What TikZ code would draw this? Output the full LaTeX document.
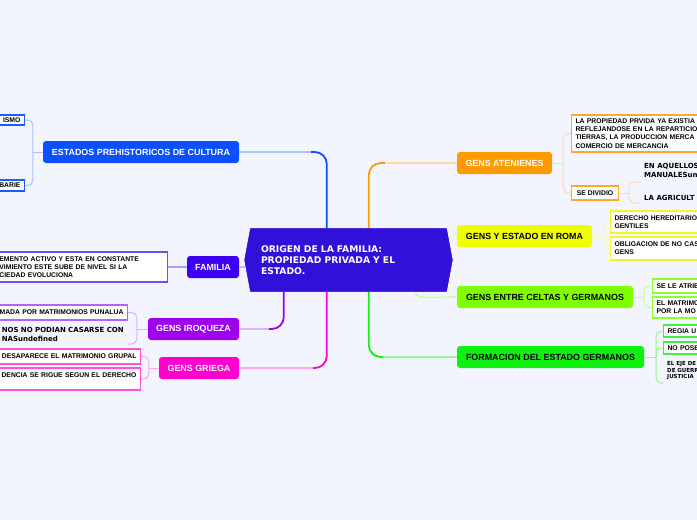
\documentclass[tikz,border=0pt]{standalone}
\usepackage{fontspec}
\setmainfont{Liberation Sans}
\newfontfamily\dejavu{DejaVu Sans}
\usetikzlibrary{calc,backgrounds}
\definecolor{bg}{HTML}{F2F5FD}
\definecolor{croot}{HTML}{3210DA}
\definecolor{cblue}{HTML}{0A50FF}
\definecolor{cblueL}{HTML}{A9C2FF}
\definecolor{cblueB}{HTML}{1A5CFF}
\definecolor{cfam}{HTML}{3D00F5}
\definecolor{cfamL}{HTML}{A99DFF}
\definecolor{cfamB}{HTML}{6A50F5}
\definecolor{cviol}{HTML}{9E00EE}
\definecolor{cviolL}{HTML}{DDB0FF}
\definecolor{cviolB}{HTML}{B860FF}
\definecolor{cmag}{HTML}{FF00CF}
\definecolor{cmagL}{HTML}{FFA8EE}
\definecolor{cmagB}{HTML}{FF50E0}
\definecolor{corange}{HTML}{FF9A00}
\definecolor{corangeL}{HTML}{FFD9A6}
\definecolor{corangeB}{HTML}{FFA830}
\definecolor{cyel}{HTML}{F0FF00}
\definecolor{cyelL}{HTML}{F4FFA0}
\definecolor{cyelB}{HTML}{F0F530}
\definecolor{clime}{HTML}{80FF00}
\definecolor{climeL}{HTML}{C2FF8C}
\definecolor{climeB}{HTML}{8CFF30}
\definecolor{cgreen}{HTML}{10F010}
\definecolor{cgreenL}{HTML}{98F598}
\definecolor{cgreenB}{HTML}{40EE40}
\begin{document}
\begin{tikzpicture}[x=1pt,y=-1pt,
 mainbox/.style={rounded corners=3pt, minimum height=22pt, inner sep=0pt, font=\fontsize{8.9}{10}\selectfont\bfseries},
 childbox/.style={draw, fill=white, line width=1.1pt, font=\fontsize{6.8}{8.3}\selectfont\bfseries, inner xsep=4pt, inner ysep=2pt, text=black},
 plainbox/.style={font=\dejavu\fontsize{7}{8.3}\selectfont\bfseries, inner xsep=4pt, text=black, align=left},
 trunk/.style={line width=1.8pt, rounded corners=12pt},
 twig/.style={line width=1.2pt},
 brk/.style={line width=1pt, rounded corners=5pt}]
\begin{scope}[on background layer]
\fill[bg] (0,0) rectangle (697,520);
\end{scope}
\useasboundingbox (0,0) rectangle (697,520);

% root
\node[text=white, font=\dejavu\bfseries\fontsize{9.2}{11}\selectfont, minimum width=197pt, minimum height=64pt, text width=175pt, align=left, inner sep=0pt] (root) at (348.5,260) {ORIGEN DE LA FAMILIA:\\PROPIEDAD PRIVADA Y EL\\ESTADO.};
\begin{scope}[on background layer]
\filldraw[fill=croot, draw=white, line width=0.8pt] ($(root.west)+(-6,0)$) -- (root.north west) -- (root.north east) -- ($(root.east)+(6,0)$) -- (root.south east) -- (root.south west) -- cycle;
\end{scope}

% main branches
\node[mainbox, fill=cblue, text=white, minimum width=196pt] (estados) at (141,152) {ESTADOS PREHISTORICOS DE CULTURA};
\node[mainbox, fill=cfam, text=white, minimum width=52pt] (familia) at (213,267) {FAMILIA};
\node[mainbox, fill=cviol, text=white, minimum width=91pt] (iroq) at (193.5,329) {GENS IROQUEZA};
\node[mainbox, fill=cmag, text=white, minimum width=80pt] (griega) at (199,368) {GENS GRIEGA};
\node[mainbox, fill=corange, text=white, minimum width=95pt] (aten) at (504.5,163) {GENS ATENIENES};
\node[mainbox, fill=cyel, text=black, minimum width=135pt] (roma) at (524.5,236) {GENS Y ESTADO EN ROMA};
\node[mainbox, fill=clime, text=black, minimum width=176pt] (celtas) at (545,297) {GENS ENTRE CELTAS Y GERMANOS};
\node[mainbox, fill=cgreen, text=black, minimum width=187pt] (form) at (550.5,357) {FORMACION DEL ESTADO GERMANOS};

% root anchors for connectors
\coordinate (rA) at ($(root.north west)+(77,0)$);
\coordinate (rB) at ($(root.north west)+(119,0)$);
\coordinate (rC) at ($(root.south west)+(34,0)$);
\coordinate (rD) at ($(root.south west)+(77,0)$);
\coordinate (rE) at ($(root.south west)+(119,0)$);
\coordinate (rF) at ($(root.south west)+(165,0)$);
\coordinate (rG) at ($(root.north east)+(1.5,8)$);
\coordinate (rH) at ($(root.south west)+(-4.7,-25)$);

\draw[trunk, cblue] (rA) |- ($(estados.east)+(72,0)$);
\draw[twig, cblueL] ($(estados.east)+(72,0)$) -- (estados.east);
\draw[trunk, corange] (rB) |- ($(aten.west)+(-72,0)$);
\draw[twig, corangeL] ($(aten.west)+(-72,0)$) -- (aten.west);
\draw[trunk, cviol] (rC) |- ($(iroq.east)+(30,0)$);
\draw[twig, cviolL] ($(iroq.east)+(30,0)$) -- (iroq.east);
\draw[trunk, cmag] (rD) |- ($(griega.east)+(74,0)$);
\draw[twig, cmagL] ($(griega.east)+(74,0)$) -- (griega.east);
\draw[trunk, cgreen] (rE) |- ($(form.west)+(-74,0)$);
\draw[twig, cgreenL] ($(form.west)+(-74,0)$) -- (form.west);
\draw[twig, climeL] (rF) .. controls ($(rF)+(2,5)$) and ($(rF)+(5,5)$) .. ($(rF)+(17,5)$) -- (celtas.west);
\draw[twig, cyelL] (rG) -- (roma.west);
\draw[twig, cfamL] (familia.east) -- (rH);

% ESTADOS children
\node[childbox, draw=cblueB, anchor=east, text width=50pt, align=right, minimum height=10pt] (salv) at (25,120) {ISMO};
\node[childbox, draw=cblueB, anchor=east, text width=50pt, align=right, minimum height=11pt] (barb) at (25,185.5) {BARIE};
\coordinate (bE) at ($(estados.west)+(-10,0)$);
\draw[brk, cblueL] (estados.west) -- (bE);
\draw[brk, cblueL] (bE) |- (salv.east);
\draw[brk, cblueL] (bE) |- (barb.east);

% FAMILIA child
\node[childbox, draw=cfamB, anchor=east, text width=164pt, align=left, minimum height=30pt] (famc) at (168,267) {EMENTO ACTIVO Y ESTA EN CONSTANTE\\VIMIENTO ESTE SUBE DE NIVEL SI LA\\CIEDAD EVOLUCIONA};
\draw[twig, cfamL] (familia.west) -- (famc.east);

% IROQUEZA children
\node[childbox, draw=cviolB, anchor=east, text width=140pt, align=right, minimum height=15pt] (iro1) at (128,312.5) {MADA POR MATRIMONIOS PUNALUA};
\node[plainbox, anchor=south east, text width=124pt, inner xsep=2pt, inner ysep=2.5pt] (iro2) at (128,344) {NOS NO PODIAN CASARSE CON\\NASundefined};
\coordinate (bI) at ($(iroq.west)+(-11,0)$);
\draw[brk, cviolL] (iroq.west) -- (bI);
\draw[brk, cviolL] (bI) |- (iro1.east);
\draw[brk, cviolL] (bI) |- (iro2.south east);

% GRIEGA children
\node[childbox, draw=cmagB, anchor=east, text width=150pt, align=right, minimum height=15pt] (gr1) at (141,356.5) {DESAPARECE EL MATRIMONIO GRUPAL};
\node[childbox, draw=cmagB, anchor=east, text width=150pt, align=right, minimum height=22pt] (gr2) at (141,379) {DENCIA SE RIGUE SEGUN EL DERECHO\\~};
\coordinate (bG) at ($(griega.west)+(-10,0)$);
\draw[brk, cmagL] (griega.west) -- (bG);
\draw[brk, cmagL] (bG) |- (gr1.east);
\draw[brk, cmagL] (bG) |- (gr2.east);

% ATENIENES children
\node[childbox, draw=corangeB, anchor=west, text width=150pt, align=left, minimum height=37pt] (at1) at (571,133.5) {LA PROPIEDAD PRVIDA YA EXISTIA\\REFLEJANDOSE EN LA REPARTICIO\\TIERRAS, LA PRODUCCION MERCA\\COMERCIO DE MERCANCIA};
\node[childbox, draw=corangeB, anchor=west, minimum width=47pt, minimum height=14pt] (sediv) at (571,193) {SE DIVIDIO};
\coordinate (bA) at ($(aten.east)+(11,0)$);
\draw[brk, corangeL] (aten.east) -- (bA);
\draw[brk, corangeL] (bA) |- (at1.west);
\draw[brk, corangeL] (bA) |- (sediv.west);

\node[plainbox, anchor=south west, inner ysep=4.5pt] (en) at (640,182) {EN AQUELLOS\\MANUALESun};
\node[plainbox, anchor=south west, inner ysep=2.5pt] (agr) at (640,203) {LA AGRICULT};
\coordinate (bS) at ($(sediv.east)+(10,0)$);
\draw[brk, corangeL] (sediv.east) -- (bS);
\draw[brk, corangeL] (bS) |- (en.south west);
\draw[brk, corangeL] (bS) |- (agr.south west);

% ROMA children
\node[childbox, draw=cyelB, anchor=west, text width=150pt, align=left, minimum height=22pt] (ro1) at (610,222) {DERECHO HEREDITARIO\\GENTILES};
\node[childbox, draw=cyelB, anchor=west, text width=150pt, align=left, minimum height=23pt] (ro2) at (610,248.5) {OBLIGACION DE NO CAS\\GENS};
\coordinate (bR) at ($(roma.east)+(12,0)$);
\draw[brk, cyelL] (roma.east) -- (bR);
\draw[brk, cyelL] (bR) |- (ro1.west);
\draw[brk, cyelL] (bR) |- (ro2.west);

% CELTAS children
\node[childbox, draw=climeB, anchor=west, text width=150pt, align=left, minimum height=14pt] (ce1) at (652,286) {SE LE ATRIB};
\node[childbox, draw=climeB, anchor=west, text width=150pt, align=left, minimum height=21pt] (ce2) at (652,307.5) {EL MATRIMO\\POR LA MO};
\coordinate (bC) at ($(celtas.east)+(11,0)$);
\draw[brk, climeL] (celtas.east) -- (bC);
\draw[brk, climeL] (bC) |- (ce1.west);
\draw[brk, climeL] (bC) |- (ce2.west);

% FORMACION children
\node[childbox, draw=cgreenB, anchor=west, text width=150pt, align=left, minimum height=12pt] (fo1) at (663,331) {REGIA U};
\node[childbox, draw=cgreenB, anchor=west, text width=150pt, align=left, minimum height=12pt] (fo2) at (663,348) {NO POSE};
\node[plainbox, font=\dejavu\fontsize{5.5}{6.6}\selectfont\bfseries, anchor=south west, inner ysep=3pt] (fo3) at (663,383) {EL EJE DE\\DE GUERR\\JUSTICIA};
\coordinate (bF) at ($(form.east)+(12,0)$);
\draw[brk, cgreenL] (form.east) -- (bF);
\draw[brk, cgreenL] (bF) |- (fo1.west);
\draw[brk, cgreenL] (bF) |- (fo2.west);
\draw[brk, cgreenL] (bF) |- (fo3.south west);
\end{tikzpicture}
\end{document}
